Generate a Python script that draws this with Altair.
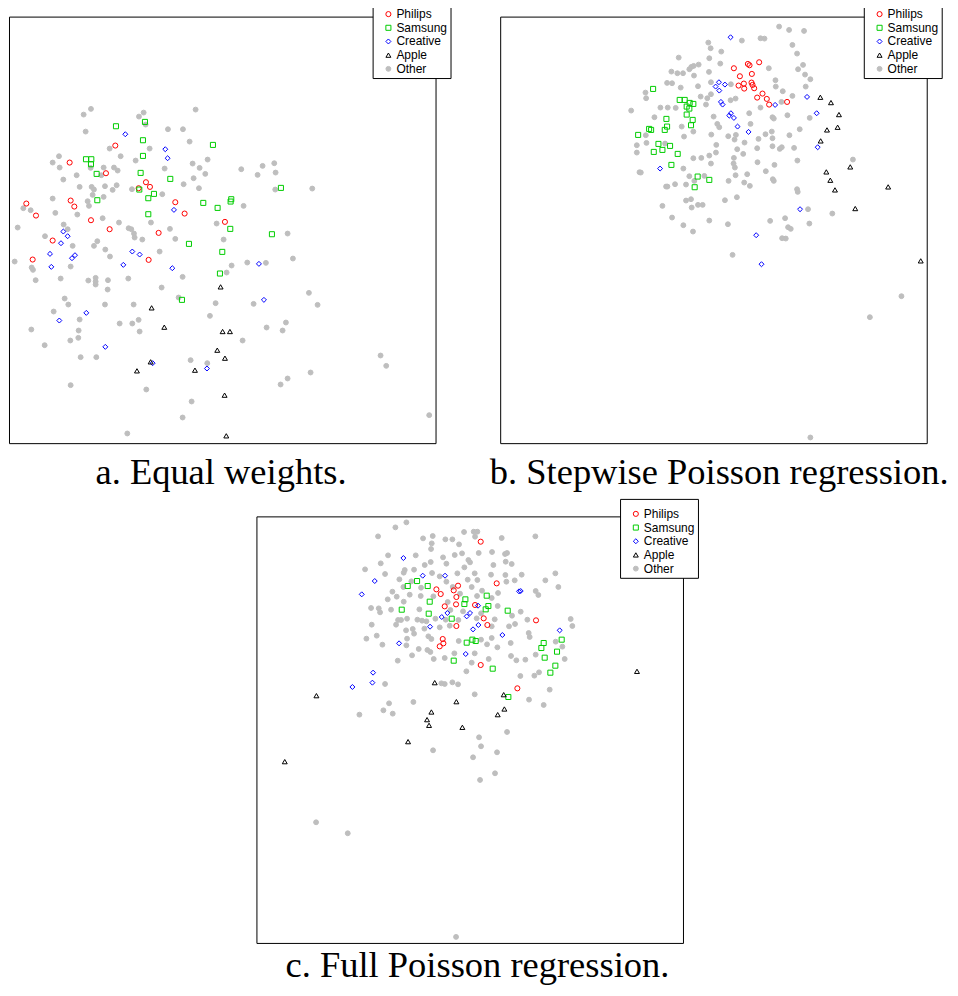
import altair as alt
import pandas as pd

# ---------------- data (coordinates, arbitrary MDS units) ----------------
BRANDS = ["Philips", "Samsung", "Creative", "Apple", "Other"]

# panel a. Equal weights
A_OTHER = [(251,329),(229,346),(565,331),(409,340),(395,352),(235,397),(482,390),(527,390),(547,427),(427,448),
           (307,448),(155,471),(136,490),(157,505),(340,471),(385,484),(472,508),(556,493),(601,481),(577,506),
           (594,524),(289,505),(320,505),(331,514),(250,506),(208,528),(282,528),(168,541),(559,537),(529,555),
           (217,563),(253,563),(260,571),(293,561),(316,572),(328,558),(374,570),(465,585),(575,567),(702,510),
           (766,500),(801,492),(751,527),(805,520),(804,571),(915,568),(136,598),(256,587),(289,593),(241,606),
           (245,620),(144,641),(210,646),(48,627),(70,633),(709,620),(286,657),(415,376),
           (31,685),(169,676),(181,690),(335,670),(364,687),(372,690),(431,670),(488,689),(628,673),(113,711),
           (196,740),(270,726),(260,740),(380,703),(382,715),(405,721),(504,719),(649,721),(841,703),(22,787),
           (73,805),(77,812),(190,802),(294,751),(308,772),(457,757),(673,799),(720,790),(776,791),(857,778),
           (658,820),(85,843),(160,838),(243,844),(265,836),(265,847),(265,856),(302,843),(363,838),(526,833),
           (463,865),(301,871),(172,898),(183,916),(293,916),(379,916),(514,895),(625,912),(739,914),(905,881),
           (931,917),(139,937),(217,961),(72,991),(214,994),(213,1016),(189,1024),(337,973),(375,973),(394,962),
           (397,997),(608,950),(778,985),(826,994),(836,970),(706,1024),(112,1038),(220,1074),(267,1074),(550,1083),
           (600,1092),(1120,1069),(1137,1100),(910,1120),(841,1138),(820,1156),(190,1158),(417,1171),(553,1207),
           (526,1255),(360,1303),(1266,1248)]
A_PHILIPS = [(324,439),(187,490),(296,522),(394,567),(416,549),(428,563),(190,604),(201,622),(57,613),(86,649),
             (504,609),(532,643),(251,663),(307,690),(136,724),(454,701),(76,781),(424,782),(653,668)]
A_SAMSUNG = [(326,381),(413,368),(407,423),(617,437),(407,470),(236,480),(252,480),(251,495),(268,524),(400,521),
             (489,539),(396,571),(440,584),(423,597),(270,603),(588,611),(631,626),(672,600),(670,607),(423,645),
             (821,566),(669,689),(794,705),(545,734),(645,758),(638,823),(524,902)]
A_CREATIVE = [(354,405),(474,450),(481,477),(500,632),(168,697),(181,711),(161,732),(128,764),(194,777),(203,768),
              (132,803),(375,757),(397,766),(348,797),(495,807),(755,794),(770,902),(237,941),(156,964),(294,1043),
              (436,1092),(599,1108)]
A_APPLE = [(640,863),(433,926),(471,984),(646,997),(668,997),(630,1053),(653,1077),(430,1088),(389,1115),
           (563,1113),(652,1188),(657,1310)]
A_XDOM, A_YDOM = [5, 1285], [52, 1332]

# panel b. Stepwise Poisson regression
B_OTHER = [(856,82),(886,92),(931,95),(744,124),(800,117),(812,118),(643,130),(650,147),(682,157),(896,137),
           (910,163),(554,175),(646,177),(679,193),(592,203),(599,200),(614,196),(586,210),(532,217),(550,222),
           (567,222),(600,229),(645,218),(928,197),(913,210),(825,207),(934,226),(950,240),(519,251),(534,252),
           (560,265),(612,261),(651,249),(711,255),(845,243),(846,262),(867,276),(936,262),(454,280),(456,297),
           (620,292),(651,285),(710,303),(725,298),(896,290),(863,308),(411,334),(499,325),(521,325),(545,326),
           (636,316),(640,297),(881,348),(836,354),(840,358),(948,356),(481,354),(659,352),(766,342),(800,325),
           (670,374),(676,384),(770,374),(563,382),(455,408),(570,412),(598,397),(652,406),(703,411),(726,407),
           (722,421),(794,419),(815,405),(836,417),(887,408),(918,390),(834,397),(428,438),(428,460),(457,431),
           (513,433),(667,437),(752,430),(730,450),(790,447),(748,464),(836,441),(858,449),(864,444),(901,446),
           (598,477),(622,476),(646,469),(666,460),(720,476),(568,508),(651,493),(719,493),(723,505),(791,489),
           (842,497),(911,484),(436,519),(440,520),(586,531),(631,530),(704,545),(760,525),(816,516),(725,528),
           (751,550),(768,560),(837,540),(840,545),(910,570),(912,578),(516,562),(520,562),(543,555),(576,556),
           (601,545),(505,620),(576,604),(591,600),(612,617),(626,617),(593,625),(693,603),(729,594),(943,630),
           (1016,643),(1078,481),(534,655),(874,657),
           (568,678),(597,697),(646,664),(702,675),(829,665),(883,684),(891,689),(865,717),(876,718),(947,673),
           (716,767),(1224,891),(1129,954),(950,1315)]
B_PHILIPS = [(720,207),(762,194),(767,198),(796,189),(738,231),(774,224),(734,259),(750,253),(773,250),(776,257),
             (751,268),(781,267),(806,283),(790,295),(819,299),(826,316),(880,308)]
B_SAMSUNG = [(477,269),(557,302),(572,302),(587,311),(598,314),(578,322),(586,328),(578,346),(596,362),(517,359),
             (591,378),(519,382),(512,392),(465,389),(471,392),(432,407),(493,434),(528,440),(505,452),(479,458),
             (551,464),(532,497),(611,532),(646,542),(602,564)]
B_CREATIVE = [(710,114),(675,249),(665,262),(693,256),(676,274),(681,308),(686,316),(711,342),(706,349),(720,356),
              (731,382),(764,398),(844,317),(940,293),(969,342),(972,444),(498,508),(919,630),(787,708),(803,795)]
B_APPLE = [(980,294),(1012,310),(1036,346),(1000,392),(1032,384),(981,425),(1070,503),(998,518),(1010,543),
           (1024,572),(1184,563),(1085,628),(1282,785)]
B_XDOM, B_YDOM = [17, 1300], [52, 1332]

# panel c. Full Poisson regression
C_OTHER = [(470,88),(437,103),(385,130),(520,136),(549,129),(587,139),(608,139),(643,117),(672,116),(683,116),
           (676,131),(628,154),(546,151),(756,135),(857,130),(544,168),(498,187),(415,187),(580,193),(615,186),
           (637,181),(687,180),(727,177),(766,183),(772,180),(543,207),(525,216),(590,212),(656,201),(661,208),
           (731,216),(786,213),(768,206),(393,211),(346,229),(406,243),(465,231),(462,239),(493,230),(547,240),
           (570,250),(623,241),(644,223),(675,241),(724,245),(767,246),(816,245),(917,241),(887,262),(926,282),
           (449,259),(485,265),(590,266),(654,260),(683,261),(770,266),(795,262),(428,296),(414,319),(461,282),
           (514,284),(609,282),(666,282),(697,293),(745,300),(858,294),(866,306),(462,326),(441,311),(480,305),
           (513,309),(551,310),(594,327),(631,302),(682,309),(726,315),(744,339),(364,345),(387,346),(391,358),
           (424,350),(509,349),(602,351),(640,355),(694,361),(813,356),(445,381),(454,381),(472,377),(503,380),
           (517,383),(530,385),(557,377),(588,380),(626,381),(681,376),(735,379),(787,368),(833,380),(963,378),
           (968,399),(366,395),(439,395),(469,412),(489,408),(493,422),(524,407),(570,403),(600,398),(726,400),
           (778,400),(796,393),(837,420),(381,428),(350,437),(398,455),(472,437),(536,430),(545,438),(627,444),
           (694,440),(726,435),(783,450),(840,432),(918,446),(938,461),(470,457),(487,487),(507,468),(533,471),
           (542,477),(552,498),(585,495),(614,481),(675,481),(712,454),(743,463),(784,489),(800,502),(827,500),
           (858,485),(945,498),(444,503),(650,535),(717,498),(666,509),(812,549),(854,548),(868,538),(585,573),
           (608,568),(625,574),(575,571),(406,573),(900,590),(675,604),(838,620),(882,636),(418,631),(491,627),
           (401,652),(429,662),(329,665),
           (772,717),(688,733),(694,760),(550,772),(742,778),(670,793),(736,841),(691,861),(199,988),(294,1021),
           (619,1332)]
C_PHILIPS = [(693,146),(741,271),(560,289),(625,278),(612,292),(573,303),(620,312),(585,340),(619,334),(676,336),
             (702,376),(713,396),(620,399),(579,438),(581,451),(570,460),(859,382),(693,516),(803,586)]
C_SAMSUNG = [(502,264),(474,279),(534,279),(540,326),(456,350),(537,362),(606,377),(647,319),(644,333),(711,308),
             (716,339),(708,349),(774,353),(668,440),(678,444),(651,449),(882,450),(875,465),(936,440),(885,494),
             (922,476),(917,518),(902,539),(612,503),(729,527),(776,612)]
C_CREATIVE = [(461,195),(519,248),(586,248),(375,264),(336,304),(808,295),(813,294),(685,338),(593,360),(576,372),
              (661,360),(651,370),(541,401),(670,409),(686,396),(758,426),(930,412),(448,451),(648,483),(370,539),
              (368,569),(308,582)]
C_APPLE = [(1162,535),(555,569),(200,608),(620,626),(762,605),(545,657),(764,648),(744,665),(532,680),(538,697),
           (638,703),(475,746),(105,806)]
C_XDOM, C_YDOM = [20, 1300], [70, 1350]

CAPTIONS = ["a. Equal weights.", "b. Stepwise Poisson regression.", "c. Full Poisson regression."]

# ---------------- styling ----------------
COLORS = ["#FF0000", "#00CD00", "#0000FF", "#000000", "#BEBEBE"]
FILLS = ["transparent", "transparent", "transparent", "transparent", "#BEBEBE"]
SHAPES = ["circle", "square", "diamond", "triangle-up", "circle"]
SIZES = [26, 24, 38, 55, 7]
PW = 427


def frame(other, philips, samsung, creative, apple):
    rows = []
    for name, pts in [("Other", other), ("Philips", philips), ("Samsung", samsung),
                      ("Creative", creative), ("Apple", apple)]:
        for x, y in pts:
            rows.append({"brand": name, "x": x, "y": y})
    return pd.DataFrame(rows)


def panel(df, xdom, ydom, caption, cap_offset, cap_dx):
    leg = alt.Legend(title=" ", titleFontSize=6, titlePadding=0, orient="none", legendX=364, legendY=-17.5,
                     strokeColor="black", fillColor="white", padding=3,
                     labelFont="Liberation Sans", labelFontSize=12, labelColor="black",
                     rowPadding=1.7, labelOffset=2, symbolOffset=6.8, symbolStrokeWidth=1, cornerRadius=0)
    sc = dict(domain=BRANDS)
    return alt.Chart(df).mark_point(filled=False, strokeWidth=1, opacity=1).encode(
        x=alt.X("x:Q", axis=None, scale=alt.Scale(domain=xdom, nice=False, zero=False)),
        y=alt.Y("y:Q", axis=None, scale=alt.Scale(domain=ydom, nice=False, zero=False, reverse=True)),
        color=alt.Color("brand:N", scale=alt.Scale(range=COLORS, **sc), legend=leg),
        fill=alt.Fill("brand:N", scale=alt.Scale(range=FILLS, **sc), legend=leg),
        shape=alt.Shape("brand:N", scale=alt.Scale(range=SHAPES, **sc), legend=leg),
        size=alt.Size("brand:N", scale=alt.Scale(range=SIZES, **sc), legend=leg),
    ).properties(
        width=PW, height=PW,
        title=alt.TitleParams(caption, orient="bottom", anchor="middle", frame="bounds",
                              font="Liberation Serif", fontSize=36.5, fontWeight="normal",
                              color="black", offset=cap_offset, dx=cap_dx),
    )


pa = panel(frame(A_OTHER, A_PHILIPS, A_SAMSUNG, A_CREATIVE, A_APPLE), A_XDOM, A_YDOM, CAPTIONS[0], 11.7, -9)
pb = panel(frame(B_OTHER, B_PHILIPS, B_SAMSUNG, B_CREATIVE, B_APPLE), B_XDOM, B_YDOM, CAPTIONS[1], 11.7, -2)
pc = panel(frame(C_OTHER, C_PHILIPS, C_SAMSUNG, C_CREATIVE, C_APPLE), C_XDOM, C_YDOM, CAPTIONS[2], 5, 0)

spacer = alt.Chart(pd.DataFrame({"v": [0]})).mark_point(opacity=0, size=0, strokeWidth=0).encode(
    x=alt.X("v:Q", axis=None), y=alt.Y("v:Q", axis=None)
).properties(width=1, height=1, view=alt.ViewBackground(stroke=None))

IND = dict(color="independent", fill="independent", shape="independent", size="independent")
top = alt.hconcat(pa, pb, spacing=64.7, bounds="flush").resolve_scale(**IND)
bottom = alt.hconcat(spacer, pc, spacing=246.7, bounds="flush").resolve_scale(**IND)

chart = alt.vconcat(top, bottom, spacing=5.3).resolve_scale(**IND).properties(
    padding={"left": 0, "top": -10.9, "right": 0, "bottom": 0}
).configure_view(stroke="black", strokeWidth=1)

chart.save("out.html", embed_options={"renderer": "svg", "actions": False})
